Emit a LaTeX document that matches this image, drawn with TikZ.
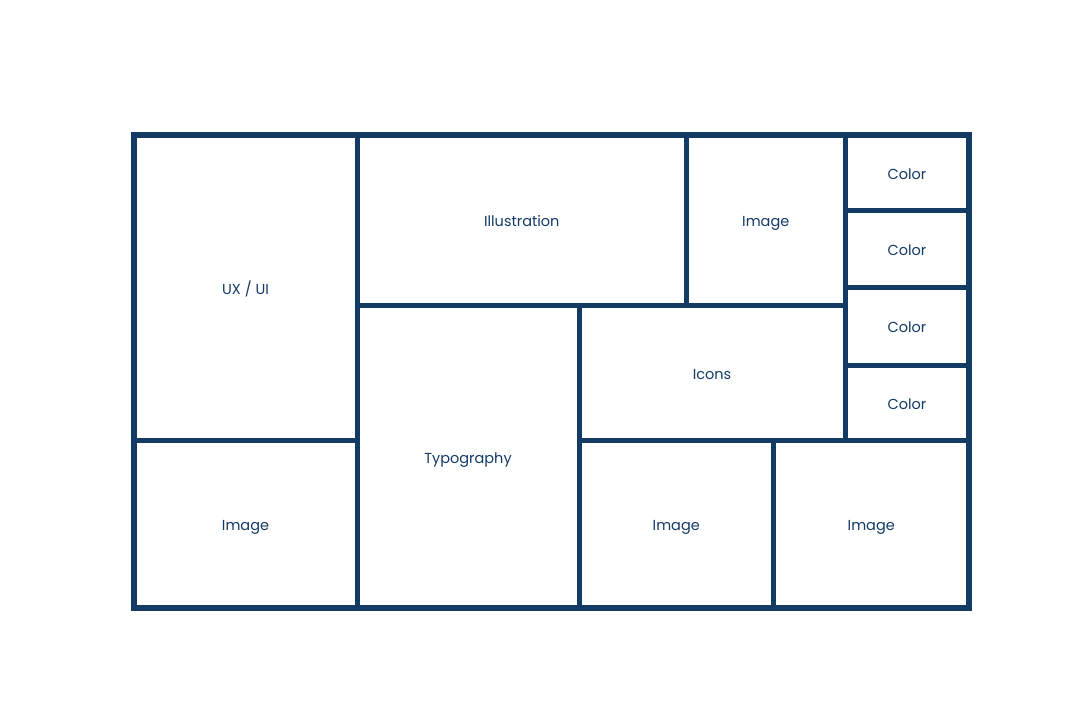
\documentclass[tikz,border=0pt]{standalone}
\usepackage{fontspec}
\setmainfont{Poppins}
\definecolor{navy}{RGB}{20,58,102}
\begin{document}
\begin{tikzpicture}[x=1pt,y=-1pt,
  cell/.style={draw=navy,line width=5pt,text=navy,inner sep=0pt,
    text height=13pt,text depth=0pt,
    font=\fontsize{14.5}{16}\selectfont}]
  \useasboundingbox[fill=white] (0,0) rectangle (1080,723);

  % left column
  \node[cell,minimum width=223pt,minimum height=306pt] (uxui) at (245.5,287.5) {UX / UI};
  \node[cell,minimum width=223pt,minimum height=167.5pt] (imgA) at (245.5,524.25) {Image};

  % top middle
  \node[cell,minimum width=329.5pt,minimum height=170.5pt] (illu) at (521.75,219.75) {Illustration};
  \node[cell,minimum width=158.5pt,minimum height=170.5pt] (imgB) at (765.75,219.75) {Image};

  % colour column
  \node[cell,minimum width=124pt,minimum height=76pt] (colA) at (907,172.5) {Color};
  \node[cell,minimum width=124pt,minimum height=77pt] (colB) at (907,249) {Color};
  \node[cell,minimum width=124pt,minimum height=77.5pt] (colC) at (907,326.25) {Color};
  \node[cell,minimum width=124pt,minimum height=75.5pt] (colD) at (907,402.75) {Color};

  % lower middle
  \node[cell,minimum width=222pt,minimum height=303pt] (typo) at (468,456.5) {Typography};
  \node[cell,minimum width=266pt,minimum height=135.5pt] (icons) at (712,372.75) {Icons};
  \node[cell,minimum width=194.5pt,minimum height=167.5pt] (imgC) at (676.25,524.25) {Image};
  \node[cell,minimum width=195.5pt,minimum height=167.5pt] (imgD) at (871.25,524.25) {Image};

  % outer frame
  \draw[navy,line width=6pt] (134,134.5) rectangle (969,608);
\end{tikzpicture}
\end{document}
